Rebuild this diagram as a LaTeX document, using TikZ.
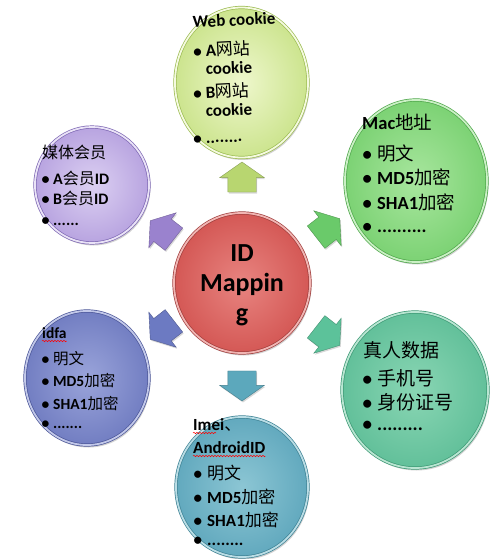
\documentclass[tikz,border=0pt]{standalone}
\usepackage{fontspec}
\setmainfont{Carlito}
\newfontfamily\cjk{Noto Sans CJK SC}
\usetikzlibrary{shapes.geometric,shapes.arrows,shadows,decorations.pathmorphing}
\newcommand\zh[1]{{\cjk\mdseries #1}}
\newcommand\bulw[1]{\makebox[#1pt][l]{\hspace{-2.5pt}\textbullet}}

\definecolor{webIn}{HTML}{EEF7CC}\definecolor{webOut}{HTML}{CCE48E}\definecolor{webDr}{HTML}{9CBB52}
\definecolor{medIn}{HTML}{DCD0F2}\definecolor{medOut}{HTML}{B8A4E0}\definecolor{medDr}{HTML}{7E68B4}
\definecolor{macIn}{HTML}{A8E69E}\definecolor{macOut}{HTML}{7CD274}\definecolor{macDr}{HTML}{4EA64A}
\definecolor{cenIn}{HTML}{E88480}\definecolor{cenOut}{HTML}{D45855}\definecolor{cenDr}{HTML}{A03E3C}
\definecolor{idfIn}{HTML}{9AA4DA}\definecolor{idfOut}{HTML}{727EC2}\definecolor{idfDr}{HTML}{4A5598}
\definecolor{truIn}{HTML}{8AD6B4}\definecolor{truOut}{HTML}{62C09A}\definecolor{truDr}{HTML}{3C9874}
\definecolor{botIn}{HTML}{8CC6D4}\definecolor{botOut}{HTML}{62A9BE}\definecolor{botDr}{HTML}{3D8294}
\definecolor{arUp}{HTML}{B8D670}\definecolor{arUR}{HTML}{6ACA6A}\definecolor{arLR}{HTML}{5CC29A}
\definecolor{arDn}{HTML}{5CA8BC}\definecolor{arLL}{HTML}{6C7AC2}\definecolor{arUL}{HTML}{9A82CE}

\tikzset{
  bub/.style={ellipse, inner sep=0pt, line width=0.7pt, double distance=1.8pt,
    drop shadow={shadow xshift=1.5pt, shadow yshift=-2.5pt, opacity=0.35}},
  arr/.style={single arrow, fill=#1, draw=#1!75!black, line width=0.4pt,
    single arrow head extend=8pt, single arrow tip angle=110,
    minimum height=30pt, text height=14pt, text depth=14pt, text width=0pt, inner sep=0pt,
    drop shadow={shadow xshift=1pt, shadow yshift=-1.5pt, opacity=0.3}},
  txt/.style={anchor=base west, inner sep=0pt, font=\bfseries\fontsize{#1}{#1}\selectfont},
  squig/.style={draw=red, line width=0.5pt, decorate,
    decoration={snake, amplitude=0.7pt, segment length=3pt}}
}

\begin{document}
\begin{tikzpicture}[x=1pt,y=-1pt]
\useasboundingbox[fill=white] (0,0) rectangle (500,559);

% circles
\node[bub, inner color=webIn, outer color=webOut, draw=webDr, double=webIn!60!white,
  minimum width=133pt, minimum height=150pt] (web) at (241.5,82.5) {};
\node[bub, inner color=medIn, outer color=medOut, draw=medDr, double=medIn!60!white,
  minimum width=114pt, minimum height=116pt] (med) at (92,185) {};
\node[bub, inner color=macIn, outer color=macOut, draw=macDr, double=macIn!60!white,
  minimum width=142pt, minimum height=162pt] (mac) at (416,181) {};
\node[bub, inner color=truIn, outer color=truOut, draw=truDr, double=truIn!60!white,
  minimum width=146pt, minimum height=156pt] (tru) at (415,390) {};
\node[bub, inner color=idfIn, outer color=idfOut, draw=idfDr, double=idfIn!60!white,
  minimum width=124pt, minimum height=134pt] (idf) at (87,378) {};
\node[bub, inner color=botIn, outer color=botOut, draw=botDr, double=botIn!60!white,
  minimum width=132pt, minimum height=140pt] (bot) at (242,487) {};
\node[bub, inner color=cenIn, outer color=cenOut, draw=cenDr, double=cenIn!60!white,
  minimum width=136pt, minimum height=140pt] (cen) at (242,283) {};

% arrows
\node[arr=arUp, rotate=90] (aUp) at (242,182) {};
\node[arr=arUR, rotate=38] (aUR) at (324,231) {};
\node[arr=arLR, rotate=-38] (aLR) at (324,333) {};
\node[arr=arDn, rotate=-90] (aDn) at (242,381) {};
\node[arr=arLL, rotate=218] (aLL) at (166,327) {};
\node[arr=arUL, rotate=142] (aUL) at (166,233) {};

% center text
\node[inner sep=0pt, align=center, font=\bfseries\fontsize{26}{30}\selectfont] (cenT) at (242,285) {ID\\Mappin\\g};

% web cookie
\node[txt=17, rotate=3] (w0) at (193,28) {Web cookie};
\node[txt=17, rotate=3] (w1) at (196,57) {\bulw{10}A\zh{网站}};
\node[txt=17, rotate=3] (w1c) at (206,75) {cookie};
\node[txt=17, rotate=3] (w2) at (196,99) {\bulw{10}B\zh{网站}};
\node[txt=17, rotate=3] (w2c) at (206,117) {cookie};
\node[txt=17, rotate=3] (w3) at (196,144) {\bulw{10}........};

% media
\node[txt=16] (m0) at (42,158) {\zh{媒体会员}};
\node[txt=16] (m1) at (44,184) {\bulw{9}A\zh{会员}ID};
\node[txt=16] (m2) at (44,204) {\bulw{9}B\zh{会员}ID};
\node[txt=16] (m3) at (44,225) {\bulw{9}......};

% mac
\node[txt=18.5] (c0) at (362,129) {Mac\zh{地址}};
\node[txt=18.5] (c1) at (365,160) {\bulw{12}\zh{明文}};
\node[txt=18.5] (c2) at (365,184) {\bulw{12}MD5\zh{加密}};
\node[txt=18.5] (c3) at (365,209) {\bulw{12}SHA1\zh{加密}};
\node[txt=18.5] (c4) at (365,232) {\bulw{12}..........};

% real person
\node[txt=19] (r0) at (363,357) {\zh{真人数据}};
\node[txt=19] (r1) at (365,385) {\bulw{12}\zh{手机号}};
\node[txt=19] (r2) at (365,409) {\bulw{12}\zh{身份证号}};
\node[txt=19] (r3) at (365,430) {\bulw{12}.........};

% idfa
\node[txt=15.5] (i0) at (42,338) {idfa};
\node[txt=15.5] (i1) at (44,364) {\bulw{9}\zh{明文}};
\node[txt=15.5] (i2) at (44,386) {\bulw{9}MD5\zh{加密}};
\node[txt=15.5] (i3) at (44,409) {\bulw{9}SHA1\zh{加密}};
\node[txt=15.5] (i4) at (44,428) {\bulw{9}.......};

% imei
\node[txt=17] (b0) at (193,430) {Imei\zh{、}};
\node[txt=17] (b1) at (193,453) {AndroidID};
\node[txt=17] (b2) at (196,479) {\bulw{11}\zh{明文}};
\node[txt=17] (b3) at (196,503) {\bulw{11}MD5\zh{加密}};
\node[txt=17] (b4) at (196,526) {\bulw{11}SHA1\zh{加密}};
\node[txt=17] (b5) at (196,545) {\bulw{11}........};

% spell-check squiggles
\draw[squig] ([yshift=-3pt]i0.base west) -- ([yshift=-3pt]i0.base east);
\draw[squig] ([yshift=-3pt]b0.base west) -- ++(23,0);
\draw[squig] ([yshift=-3pt]b1.base west) -- ([yshift=-3pt]b1.base east);
\end{tikzpicture}
\end{document}
